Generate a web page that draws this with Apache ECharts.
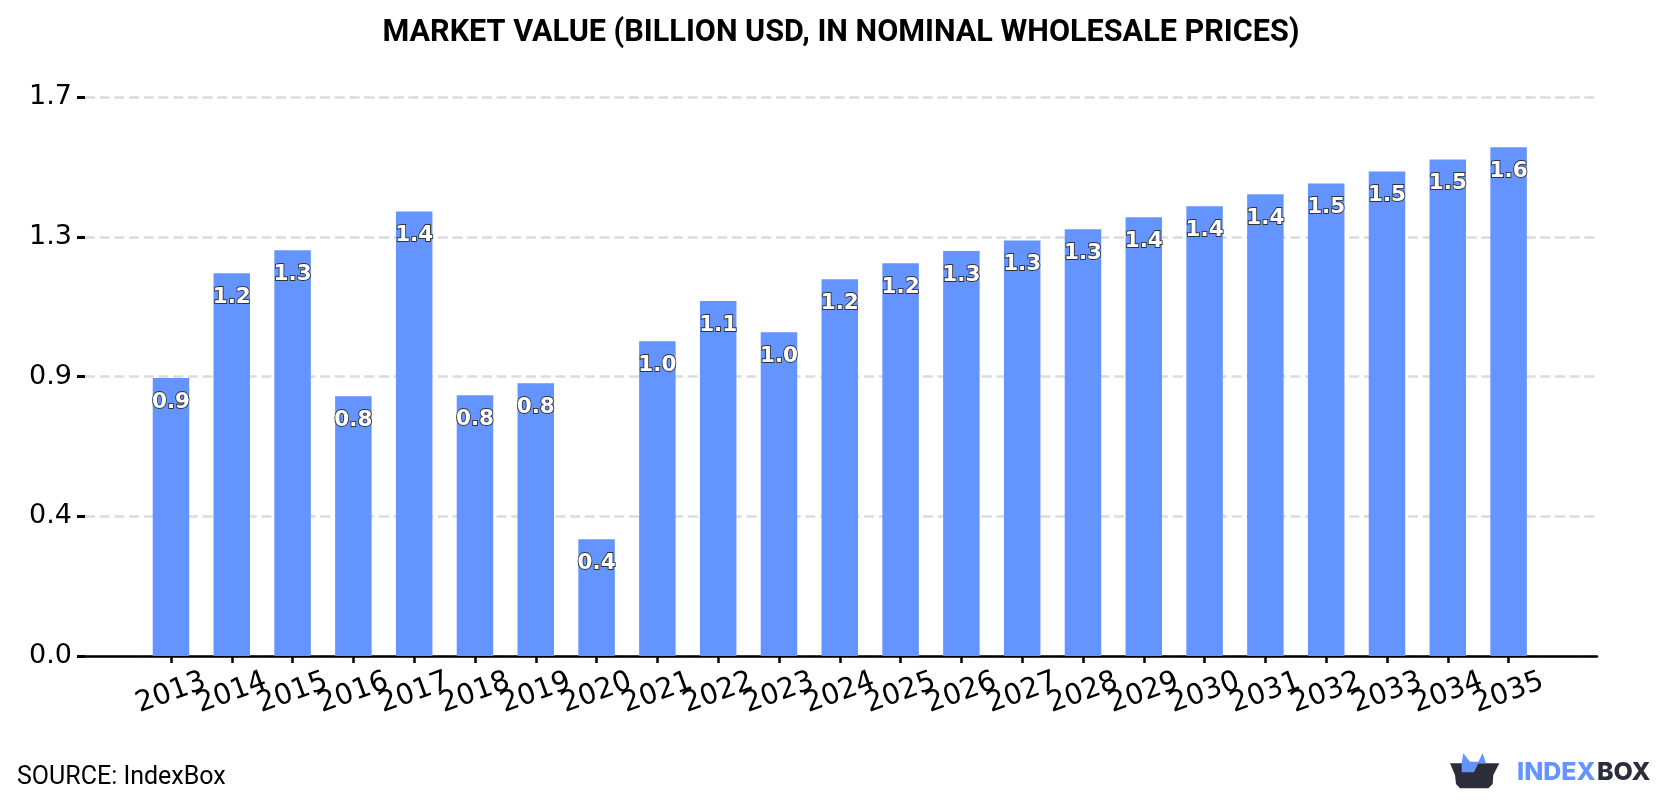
<!DOCTYPE html>
<html>
<head>
<meta charset="utf-8">
<style>html,body{margin:0;padding:0;background:#fff}#chart{width:1680px;height:800px}</style>
<script src="https://cdn.jsdelivr.net/npm/echarts@6/dist/echarts.min.js"></script>
</head>
<body>
<div id="chart"></div>
<script>
// Market value per year, billion USD
const years = [2013,2014,2015,2016,2017,2018,2019,2020,2021,2022,2023,2024,2025,2026,2027,2028,2029,2030,2031,2032,2033,2034,2035];
const marketValue = [0.862,1.187,1.259,0.806,1.379,0.809,0.846,0.362,0.976,1.101,1.004,1.169,1.218,1.256,1.289,1.324,1.361,1.395,1.432,1.466,1.503,1.540,1.578];
const valueAxisMax = 1.734;
const valueAxisStep = 0.4335;
const titleText = 'MARKET VALUE (BILLION USD, IN NOMINAL WHOLESALE PRICES)';
const sourceText = 'SOURCE: IndexBox';

const BLUE = '#6394ff';
const DARK = '#2b2d3a';

// Small helper for the logo: turns coordinates from its 3x design grid into page pixels
const logoPt = (x, y) => [1400 + x / 3, 720 + y / 3];

// Blank end labels keep the overlap check at the axis ends from dropping real years
const yearLabels = [years[0] - 1, ...years, years[years.length - 1] + 1];

const chart = echarts.init(document.getElementById('chart'), null, {renderer: 'canvas'});
chart.setOption({
  animation: false,
  backgroundColor: '#fff',
  title: {
    text: titleText, left: 836, top: 13, textAlign: 'center',
    textStyle: {fontFamily: 'Roboto', fontWeight: 700, fontSize: 30.6, color: '#000'}
  },
  grid: {left: 85, right: 83, top: 97, bottom: 144, containLabel: false},
  xAxis: {
    type: 'value',
    min: 2011.586, max: 2036.454,
    axisLine: {show: true, onZero: false, lineStyle: {color: '#000', width: 2.5}},
    axisTick: {show: true, customValues: years, length: 7, lineStyle: {color: '#000', width: 2.5}},
    splitLine: {show: false},
    axisLabel: {
      customValues: yearLabels,
      rotate: 20, margin: 37, align: 'center', verticalAlign: 'middle',
      fontFamily: 'DejaVu Sans', fontSize: 28.5, color: '#000',
      formatter: v => years.includes(v) ? String(v) : ''
    }
  },
  yAxis: {
    type: 'value', min: 0, max: valueAxisMax, interval: valueAxisStep,
    axisLine: {show: false},
    axisTick: {show: true, length: 8, lineStyle: {color: '#000', width: 3}},
    splitLine: {show: true, lineStyle: {color: '#dcdcdc', width: 2.5, type: [10, 4.7]}},
    axisLabel: {
      margin: 13, fontFamily: 'DejaVu Sans', fontSize: 27, color: '#000',
      formatter: v => v.toFixed(1)
    }
  },
  series: [{
    type: 'bar',
    data: years.map((y, i) => [y, marketValue[i]]),
    barWidth: 36.5,
    itemStyle: {color: BLUE},
    label: {
      show: true, position: 'insideTop', distance: 13,
      fontFamily: 'DejaVu Sans', fontWeight: 'bold', fontSize: 21.5,
      color: '#fff', textBorderColor: '#333', textBorderWidth: 1.8,
      formatter: p => p.value[1].toFixed(1)
    }
  }],
  graphic: [
    {type: 'text', left: 17, top: 765, style: {text: sourceText, font: '25px Roboto', fill: '#000'}},
    {type: 'polygon', shape: {points: [[150,130],[298,130],[280,165],[278,192],[265,205],[180,205],[168,192],[165,165]].map(p => logoPt(p[0], p[1]))}, style: {fill: DARK}},
    {type: 'polygon', shape: {points: [[185,130],[190,100],[210,125],[235,125],[248,100],[258,130],[235,130],[222,157],[185,157]].map(p => logoPt(p[0], p[1]))}, style: {fill: BLUE}},
    {type: 'text', x: 1517, y: 760, style: {text: 'INDEX', font: '800 25px Inter', fill: BLUE}},
    {type: 'text', x: 1597, y: 760, style: {text: 'BOX', font: '800 25px Inter', fill: DARK}}
  ]
});
</script>
</body>
</html>
